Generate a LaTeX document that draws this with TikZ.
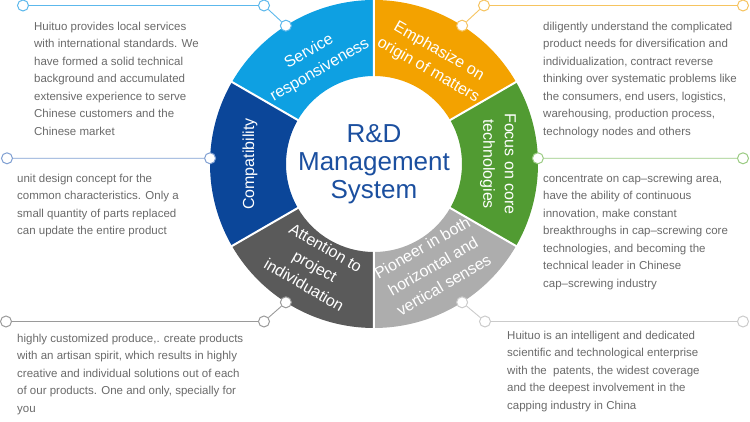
\documentclass[tikz,border=0pt]{standalone}
\usepackage{fontspec}
\setmainfont{Liberation Sans}
\usepackage{tikz}

\definecolor{svc}{HTML}{0EA0E2}
\definecolor{emph}{HTML}{F3A200}
\definecolor{focus}{HTML}{519B32}
\definecolor{pion}{HTML}{ADADAD}
\definecolor{attn}{HTML}{5A5A5A}
\definecolor{comp}{HTML}{0B4699}
\definecolor{svcline}{HTML}{5CB8EC}
\definecolor{emphline}{HTML}{F6C460}
\definecolor{focusline}{HTML}{9ACB82}
\definecolor{pionline}{HTML}{CBCBCB}
\definecolor{attnline}{HTML}{9A9A9A}
\definecolor{compline}{HTML}{7F9FD2}
\definecolor{desctext}{HTML}{6A6A6A}
\definecolor{titleblue}{HTML}{1B4F9F}

\begin{document}
\begin{tikzpicture}[x=1pt, y=1pt,
    dot/.style = {draw=#1, circle, fill=white, line width=1pt, inner sep=0pt, minimum size=11pt},
    link/.style = {draw=#1, line width=0.9pt},
    desc/.style = {anchor=north west, inner sep=0pt, align=left, text=desctext, font=\fontsize{11.5}{17.5}\selectfont},
    lbl/.style = {white, inner sep=0pt, align=center, font=\fontsize{16}{21.5}\selectfont},
    gap/.style = {white, line width=2pt}]
    \useasboundingbox (-374,-258) rectangle (376,164);

    % ring segments
    \fill[svc] (90:164) arc[start angle=90, end angle=150, radius=164pt] -- (150:88) arc[start angle=150, end angle=90, radius=88pt] -- cycle;
    \fill[emph] (30:164) arc[start angle=30, end angle=90, radius=164pt] -- (90:88) arc[start angle=90, end angle=30, radius=88pt] -- cycle;
    \fill[focus] (-30:164) arc[start angle=-30, end angle=30, radius=164pt] -- (30:88) arc[start angle=30, end angle=-30, radius=88pt] -- cycle;
    \fill[pion] (-90:164) arc[start angle=-90, end angle=-30, radius=164pt] -- (-30:88) arc[start angle=-30, end angle=-90, radius=88pt] -- cycle;
    \fill[attn] (-150:164) arc[start angle=-150, end angle=-90, radius=164pt] -- (-90:88) arc[start angle=-90, end angle=-150, radius=88pt] -- cycle;
    \fill[comp] (150:164) arc[start angle=150, end angle=210, radius=164pt] -- (210:88) arc[start angle=210, end angle=150, radius=88pt] -- cycle;
    \draw[gap] (90:86) -- (90:166) (30:86) -- (30:166) (-30:86) -- (-30:166)
        (-90:86) -- (-90:166) (-150:86) -- (-150:166) (150:86) -- (150:166);

    \node[text=titleblue, align=center, font=\fontsize{26}{28}\selectfont] (c) at (0,0) {R\&D\\Management\\System};

    \node[lbl, rotate=30] (l1) at (120:119) {Service\\responsiveness};
    \node[lbl, rotate=-30] (l2) at (60:119) {Emphasize on\\origin of matters};
    \node[lbl, rotate=-90] (l3) at (0:124) {Focus on core\\technologies};
    \node[lbl, rotate=30] (l4) at (-60:118) {Pioneer in both\\horizontal and\\vertical senses};
    \node[lbl, rotate=-30] (l5) at (-120:118) {Attention to\\project\\individuation};
    \node[lbl, rotate=90] (l6) at (180:124) {Compatibility};

    % connector dots
    \node[dot=svcline] (d1) at (122.5:164) {};
    \node[dot=svcline] (d1a) at (-110,158.5) {};
    \node[dot=svcline] (d1b) at (-351,158.5) {};
    \node[dot=emphline] (d2) at (57.5:164) {};
    \node[dot=emphline] (d2a) at (110,158.5) {};
    \node[dot=emphline] (d2b) at (369,158.5) {};
    \node[dot=focusline] (d3) at (2:164) {};
    \node[dot=focusline] (d3b) at (369,5.7) {};
    \node[dot=pionline] (d4) at (-57.5:164) {};
    \node[dot=pionline] (d4a) at (111,-157.5) {};
    \node[dot=pionline] (d4b) at (369,-157.5) {};
    \node[dot=attnline] (d5) at (-122.5:164) {};
    \node[dot=attnline] (d5a) at (-110,-157.5) {};
    \node[dot=attnline] (d5b) at (-368,-157.5) {};
    \node[dot=compline] (d6) at (178:164) {};
    \node[dot=compline] (d6b) at (-367,5.7) {};

    \draw[link=svcline] (d1) -- (d1a) -- (d1b);
    \draw[link=emphline] (d2) -- (d2a) -- (d2b);
    \draw[link=focusline] (d3) -- (d3b);
    \draw[link=pionline] (d4) -- (d4a) -- (d4b);
    \draw[link=attnline] (d5) -- (d5a) -- (d5b);
    \draw[link=compline] (d6) -- (d6b);

    % descriptions
    \node[desc] (t1) at (-340,142.5) {Huituo provides local services\\with international standards. We\\have formed a solid technical\\background and accumulated\\extensive experience to serve\\Chinese customers and the\\Chinese market};
    \node[desc] (t2) at (169,142.5) {diligently understand the complicated\\product needs for diversification and\\individualization, contract reverse\\thinking over systematic problems like\\the consumers, end users, logistics,\\warehousing, production process,\\technology nodes and others};
    \node[desc] (t3) at (169,-9.5) {concentrate on cap--screwing area,\\have the ability of continuous\\innovation, make constant\\breakthroughs in cap--screwing core\\technologies, and becoming the\\technical leader in Chinese\\cap--screwing industry};
    \node[desc] (t4) at (133,-166.5) {Huituo is an intelligent and dedicated\\scientific and technological enterprise\\with the\ \ patents, the widest coverage\\and the deepest involvement in the\\capping industry in China};
    \node[desc] (t5) at (-357,-169.5) {highly customized produce,. create products\\with an artisan spirit, which results in highly\\creative and individual solutions out of each\\of our products. One and only, specially for\\you};
    \node[desc] (t6) at (-357,-9.5) {unit design concept for the\\common characteristics. Only a\\small quantity of parts replaced\\can update the entire product};
\end{tikzpicture}
\end{document}
